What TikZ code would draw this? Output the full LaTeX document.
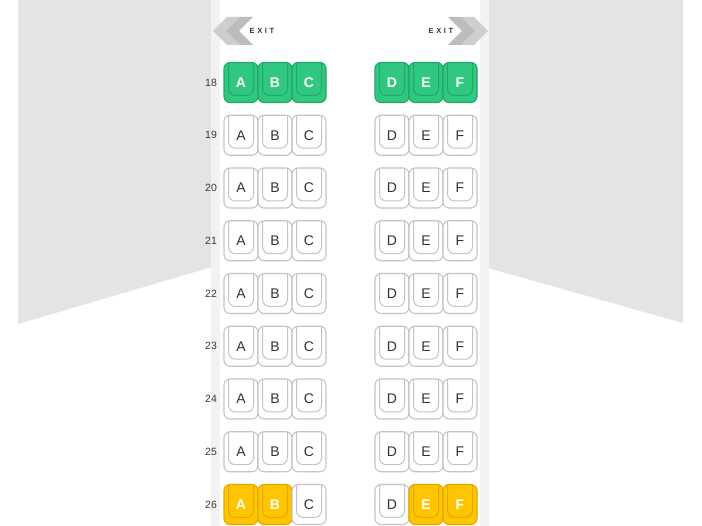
\documentclass[tikz,border=0pt]{standalone}
\usepackage{fontspec}
\setmainfont{Liberation Sans}
\usetikzlibrary{calc}
\definecolor{wing}{RGB}{228,228,228}
\definecolor{wall}{RGB}{242,242,242}
\definecolor{chevA}{RGB}{206,206,206}
\definecolor{chevB}{RGB}{188,188,188}
\definecolor{seatline}{RGB}{196,196,196}
\definecolor{seattext}{RGB}{50,50,50}
\definecolor{sgreen}{RGB}{48,200,128}
\definecolor{sgreenline}{RGB}{34,168,104}
\definecolor{syellow}{RGB}{255,197,0}
\definecolor{syellowline}{RGB}{228,168,0}
\definecolor{rowtext}{RGB}{55,55,55}
\tikzset{
  seat/.style={draw=seatline, fill=white, line width=1.1pt, rounded corners=6pt,
    minimum width=34pt, minimum height=40pt, inner sep=0pt, text=seattext,
    font=\fontsize{14}{14}\selectfont,
    /utils/exec=\def\ucol{seatline},
    path picture={\draw[line width=1pt, draw=\ucol, rounded corners=7pt]
      ($(path picture bounding box.north)+(-12.5,-3)$) -- ++(0,36) -- ++(25,0) -- ++(0,-36);}},
  greenseat/.style={fill=sgreen, draw=sgreenline, text=white,
    font=\fontsize{14}{14}\selectfont\bfseries, /utils/exec=\def\ucol{sgreenline}},
  yellowseat/.style={fill=syellow, draw=syellowline, text=white,
    font=\fontsize{14}{14}\selectfont\bfseries, /utils/exec=\def\ucol{syellowline}},
  rownum/.style={text=rowtext, font=\fontsize{10.5}{10.5}\selectfont, inner sep=0pt},
  exitlabel/.style={text=rowtext, inner sep=0pt,
    font=\fontsize{7.5}{7.5}\selectfont\bfseries\addfontfeatures{LetterSpace=35}},
  st18A/.style=greenseat, st18B/.style=greenseat, st18C/.style=greenseat,
  st18D/.style=greenseat, st18E/.style=greenseat, st18F/.style=greenseat,
  st26A/.style=yellowseat, st26B/.style=yellowseat,
  st26E/.style=yellowseat, st26F/.style=yellowseat,
}
\begin{document}
\begin{tikzpicture}[x=1pt,y=-1pt]
\useasboundingbox (0,0) rectangle (702,526);
\fill[white] (0,0) rectangle (702,526);
% wings
\fill[wing] (18,0) -- (212,0) -- (212,267) -- (18,324) -- cycle;
\fill[wing] (488,0) -- (683,0) -- (683,323) -- (488,268) -- cycle;
% fuselage walls
\fill[wall] (211,0) rectangle (220,526);
\fill[wall] (480,0) rectangle (489,526);
% exit chevrons left
\fill[chevA] (213,31) -- (227,17) -- (240,17) -- (226,31) -- (240,45) -- (227,45) -- cycle;
\fill[chevB] (226,31) -- (240,17) -- (253,17) -- (239,31) -- (253,45) -- (240,45) -- cycle;
% exit chevrons right
\fill[chevA] (488,31) -- (474,17) -- (461,17) -- (475,31) -- (461,45) -- (474,45) -- cycle;
\fill[chevB] (475,31) -- (461,17) -- (448,17) -- (462,31) -- (448,45) -- (461,45) -- cycle;
\node[exitlabel] (exitL) at (262,31) {EXIT};
\node[exitlabel] (exitR) at (441,31) {EXIT};
% seats
\foreach \r [count=\i from 0] in {18,...,26} {
  \pgfmathsetmacro{\yy}{82.5+52.75*\i}
  \node[rownum] (row\r) at (211,\yy) {\r};
  \foreach \c/\x in {A/241,B/275,C/309,D/392,E/426,F/460} {
    \node[seat, st\r\c/.try] (s\r\c) at (\x,\yy) {\c};
  }
}
\end{tikzpicture}
\end{document}
